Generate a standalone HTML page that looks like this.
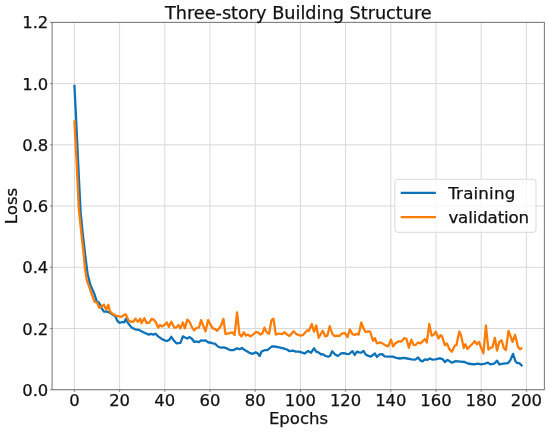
<!DOCTYPE html>
<html><head><meta charset="utf-8"><title>Three-story Building Structure</title>
<style>
html,body{margin:0;padding:0;background:#fff;}
svg{display:block;font-family:"DejaVu Sans","Liberation Sans",sans-serif;fill:#111;}
text{stroke:#111;stroke-width:0.25px;}
</style></head><body>
<svg width="550" height="433" viewBox="0 0 550 433">
<rect width="550" height="433" fill="#fff"/>
<g stroke="#d9d9d9" stroke-width="1" fill="none">
<line x1="74.4" y1="22.4" x2="74.4" y2="389.7"/>
<line x1="119.6" y1="22.4" x2="119.6" y2="389.7"/>
<line x1="164.8" y1="22.4" x2="164.8" y2="389.7"/>
<line x1="210.0" y1="22.4" x2="210.0" y2="389.7"/>
<line x1="255.2" y1="22.4" x2="255.2" y2="389.7"/>
<line x1="300.4" y1="22.4" x2="300.4" y2="389.7"/>
<line x1="345.6" y1="22.4" x2="345.6" y2="389.7"/>
<line x1="390.8" y1="22.4" x2="390.8" y2="389.7"/>
<line x1="436.0" y1="22.4" x2="436.0" y2="389.7"/>
<line x1="481.2" y1="22.4" x2="481.2" y2="389.7"/>
<line x1="526.4" y1="22.4" x2="526.4" y2="389.7"/>
<line x1="52.1" y1="389.7" x2="544.4" y2="389.7"/>
<line x1="52.1" y1="328.5" x2="544.4" y2="328.5"/>
<line x1="52.1" y1="267.3" x2="544.4" y2="267.3"/>
<line x1="52.1" y1="206.0" x2="544.4" y2="206.0"/>
<line x1="52.1" y1="144.8" x2="544.4" y2="144.8"/>
<line x1="52.1" y1="83.6" x2="544.4" y2="83.6"/>
<line x1="52.1" y1="22.4" x2="544.4" y2="22.4"/>
</g>
<polyline fill="none" stroke="#0c73ba" stroke-width="2.3" stroke-linejoin="round" stroke-linecap="butt" points="74.4,84.7 76.7,131.5 78.9,178.0 80.6,212.0 83.0,236.0 85.2,255.0 87.5,273.5 90.3,284.7 94.5,294.3 96.6,301.2 98.9,302.6 100.4,305.4 102.1,309.0 103.9,311.6 107.0,311.6 109.9,312.8 112.7,314.6 115.5,316.6 117.2,320.6 119.5,322.8 122.4,322.0 124.4,322.3 125.9,318.7 128.1,323.3 131.4,327.4 135.1,329.3 138.8,329.8 140.0,330.5 144.4,332.7 148.7,334.6 150.9,333.9 153.1,334.6 155.3,333.7 158.2,336.4 161.8,339.0 164.7,340.4 166.9,341.0 169.1,340.0 171.3,336.8 173.7,340.4 176.4,343.3 180.4,342.9 182.9,336.4 185.1,337.5 187.3,338.5 189.7,337.1 192.1,339.0 194.1,341.9 196.4,341.5 198.9,342.2 201.1,340.3 203.3,340.7 205.5,340.4 208.4,342.5 210.5,342.5 212.7,343.3 214.9,343.6 217.9,346.5 220.8,347.7 223.7,347.3 227.4,348.7 230.3,350.2 233.2,350.2 236.8,348.4 239.7,349.2 241.9,348.0 244.1,349.7 247.0,351.2 249.9,353.1 252.8,353.8 255.7,352.4 257.9,353.5 259.7,356.0 261.5,351.6 264.5,350.2 267.4,350.2 271.7,346.5 274.6,346.5 279.0,347.3 283.4,348.3 287.0,349.5 289.5,351.2 292.9,350.6 295.8,351.6 298.7,351.6 301.6,352.4 304.5,353.5 308.2,350.9 311.1,352.7 314.0,348.3 316.2,351.6 318.4,352.4 321.3,354.5 322.7,354.1 325.6,356.0 328.1,356.7 330.0,356.0 332.2,351.3 335.1,354.5 338.0,356.0 340.9,353.5 343.8,353.1 346.7,353.8 348.9,354.1 352.5,351.2 354.7,355.0 356.9,351.6 359.1,352.4 361.3,352.7 363.5,350.9 365.6,354.5 367.9,355.6 370.8,356.7 374.9,353.5 376.9,357.0 379.5,354.5 382.2,354.1 384.6,356.4 388.3,356.7 392.6,356.7 396.3,357.9 399.9,358.5 403.5,357.9 407.2,358.5 411.5,359.3 415.2,359.6 418.1,357.5 420.3,360.4 422.5,361.4 424.9,359.3 427.5,359.9 429.7,358.5 432.6,359.6 435.5,359.3 438.5,358.5 440.0,358.3 442.5,359.1 444.9,362.0 447.4,359.9 449.5,361.1 451.8,362.7 455.6,361.1 460.5,361.6 464.6,362.0 467.9,363.5 471.1,364.0 474.4,364.3 477.7,363.7 481.0,364.3 485.1,363.7 487.9,362.7 490.5,364.3 494.1,363.7 497.0,360.7 499.3,364.3 503.1,363.7 508.0,363.2 510.5,359.9 513.0,353.9 515.4,361.1 517.4,363.2 519.5,363.2 522.3,366.1"/>
<polyline fill="none" stroke="#ff7c06" stroke-width="2.3" stroke-linejoin="round" stroke-linecap="butt" points="74.4,120.4 76.7,163.5 78.8,208.5 81.2,232.0 83.8,255.0 84.9,267.9 86.9,280.9 89.0,286.2 91.3,292.9 94.5,301.6 97.0,302.6 99.3,307.8 101.6,306.5 103.9,304.6 106.2,309.7 108.3,304.8 110.1,311.6 112.7,313.9 116.4,315.9 119.2,316.4 122.0,316.8 123.9,314.8 125.9,314.5 128.6,320.6 131.4,321.9 133.6,321.5 135.5,318.7 137.9,321.9 140.3,318.7 141.5,323.3 144.4,318.2 146.5,323.0 149.5,322.5 151.6,318.9 153.8,319.6 156.0,322.5 158.2,327.6 160.1,325.0 161.8,326.5 164.7,324.7 166.9,322.5 168.8,326.9 171.3,321.8 174.2,327.6 176.4,327.3 178.5,325.0 180.4,328.4 182.9,322.5 184.8,328.4 187.3,319.6 189.5,321.8 192.1,327.6 194.1,330.3 196.7,327.9 198.9,327.6 201.1,320.1 203.3,325.9 205.5,331.3 208.1,320.1 210.5,324.7 212.7,328.4 214.9,328.8 217.1,330.8 220.8,326.2 223.4,318.9 225.5,334.2 229.5,333.2 232.2,332.3 234.6,334.9 237.1,312.4 239.4,334.2 241.5,336.4 243.8,332.3 245.8,335.6 247.7,334.6 250.6,336.4 253.5,334.2 256.0,332.0 258.3,332.7 260.4,334.6 262.3,333.5 264.5,327.6 266.6,332.3 269.1,333.7 271.4,320.4 273.5,318.6 275.8,334.6 279.0,333.5 281.9,334.2 284.5,332.3 286.6,334.2 289.5,336.1 293.6,331.3 296.5,334.2 300.5,335.6 303.1,334.9 307.2,330.3 308.9,330.8 311.8,324.0 314.0,331.7 316.2,325.5 318.7,337.8 322.7,330.8 325.3,336.4 327.4,335.6 329.7,326.2 332.2,333.5 334.4,336.1 337.3,335.6 339.5,336.1 341.6,333.7 345.0,333.2 347.5,337.1 349.9,329.5 352.5,334.2 354.7,334.9 356.9,333.7 358.7,334.6 361.3,322.5 363.5,328.4 365.6,332.0 367.8,331.3 370.1,331.7 373.0,340.7 374.9,338.1 376.9,343.3 379.5,342.5 381.7,342.9 385.4,345.4 388.3,346.3 390.9,339.6 393.1,346.3 395.5,343.3 398.2,341.5 401.4,341.5 404.3,338.1 406.5,339.0 408.9,347.7 411.3,339.6 413.7,345.1 415.9,344.8 418.1,342.5 420.3,343.3 422.5,341.5 424.9,339.0 426.8,342.5 429.3,324.0 431.6,335.6 433.7,334.9 435.8,331.7 438.5,338.5 440.6,335.2 442.0,336.1 444.9,345.2 446.9,343.5 449.5,349.3 451.8,351.7 454.8,345.7 456.4,345.2 459.3,331.6 461.0,335.3 463.8,348.0 465.4,344.3 467.5,348.9 470.3,346.0 472.8,343.5 474.8,341.1 476.9,344.3 479.0,341.9 481.3,348.4 483.4,353.4 485.9,325.5 488.4,349.6 490.5,347.6 492.5,347.3 494.9,337.8 497.0,350.6 499.3,341.9 501.5,340.2 503.9,348.0 505.9,350.1 508.5,330.9 510.5,336.1 512.5,341.9 515.1,334.8 517.9,346.8 520.0,349.3 522.3,347.6"/>
<rect x="52.1" y="22.4" width="492.3" height="367.3" fill="none" stroke="#7b7b7b" stroke-width="1.05"/>
<g stroke="#7b7b7b" stroke-width="1.05">
<line x1="74.4" y1="389.7" x2="74.4" y2="391.7"/>
<line x1="119.6" y1="389.7" x2="119.6" y2="391.7"/>
<line x1="164.8" y1="389.7" x2="164.8" y2="391.7"/>
<line x1="210.0" y1="389.7" x2="210.0" y2="391.7"/>
<line x1="255.2" y1="389.7" x2="255.2" y2="391.7"/>
<line x1="300.4" y1="389.7" x2="300.4" y2="391.7"/>
<line x1="345.6" y1="389.7" x2="345.6" y2="391.7"/>
<line x1="390.8" y1="389.7" x2="390.8" y2="391.7"/>
<line x1="436.0" y1="389.7" x2="436.0" y2="391.7"/>
<line x1="481.2" y1="389.7" x2="481.2" y2="391.7"/>
<line x1="526.4" y1="389.7" x2="526.4" y2="391.7"/>
<line x1="50.2" y1="389.7" x2="52.1" y2="389.7"/>
<line x1="50.2" y1="328.5" x2="52.1" y2="328.5"/>
<line x1="50.2" y1="267.3" x2="52.1" y2="267.3"/>
<line x1="50.2" y1="206.0" x2="52.1" y2="206.0"/>
<line x1="50.2" y1="144.8" x2="52.1" y2="144.8"/>
<line x1="50.2" y1="83.6" x2="52.1" y2="83.6"/>
<line x1="50.2" y1="22.4" x2="52.1" y2="22.4"/>
</g>
<g font-size="16.4">
<text x="74.4" y="406.2" text-anchor="middle">0</text>
<text x="119.6" y="406.2" text-anchor="middle">20</text>
<text x="164.8" y="406.2" text-anchor="middle">40</text>
<text x="210.0" y="406.2" text-anchor="middle">60</text>
<text x="255.2" y="406.2" text-anchor="middle">80</text>
<text x="300.4" y="406.2" text-anchor="middle">100</text>
<text x="345.6" y="406.2" text-anchor="middle">120</text>
<text x="390.8" y="406.2" text-anchor="middle">140</text>
<text x="436.0" y="406.2" text-anchor="middle">160</text>
<text x="481.2" y="406.2" text-anchor="middle">180</text>
<text x="526.4" y="406.2" text-anchor="middle">200</text>
<text x="48.3" y="395.7" text-anchor="end">0.0</text>
<text x="48.3" y="334.5" text-anchor="end">0.2</text>
<text x="48.3" y="273.3" text-anchor="end">0.4</text>
<text x="48.3" y="212.0" text-anchor="end">0.6</text>
<text x="48.3" y="150.8" text-anchor="end">0.8</text>
<text x="48.3" y="89.6" text-anchor="end">1.0</text>
<text x="48.3" y="28.4" text-anchor="end">1.2</text>
</g>
<text x="298.3" y="18.9" font-size="17.68" text-anchor="middle">Three-story Building Structure</text>
<text x="298.5" y="424.4" font-size="16.55" text-anchor="middle">Epochs</text>
<text transform="translate(16.5,206) rotate(-90)" font-size="16.6" text-anchor="middle">Loss</text>
<rect x="394.8" y="179.3" width="141.2" height="53" rx="3" ry="3" fill="#fff" fill-opacity="0.8" stroke="#dadada" stroke-width="1"/>
<line x1="400.7" y1="192.9" x2="435.9" y2="192.9" stroke="#0c73ba" stroke-width="2.3"/>
<line x1="400.7" y1="217.05" x2="435.9" y2="217.05" stroke="#ff7c06" stroke-width="2.3"/>
<text x="448.2" y="198.6" font-size="16.7" letter-spacing="0.17">Training</text>
<text x="448.4" y="223.2" font-size="16.7" letter-spacing="-0.15">validation</text>
</svg>
</body></html>
